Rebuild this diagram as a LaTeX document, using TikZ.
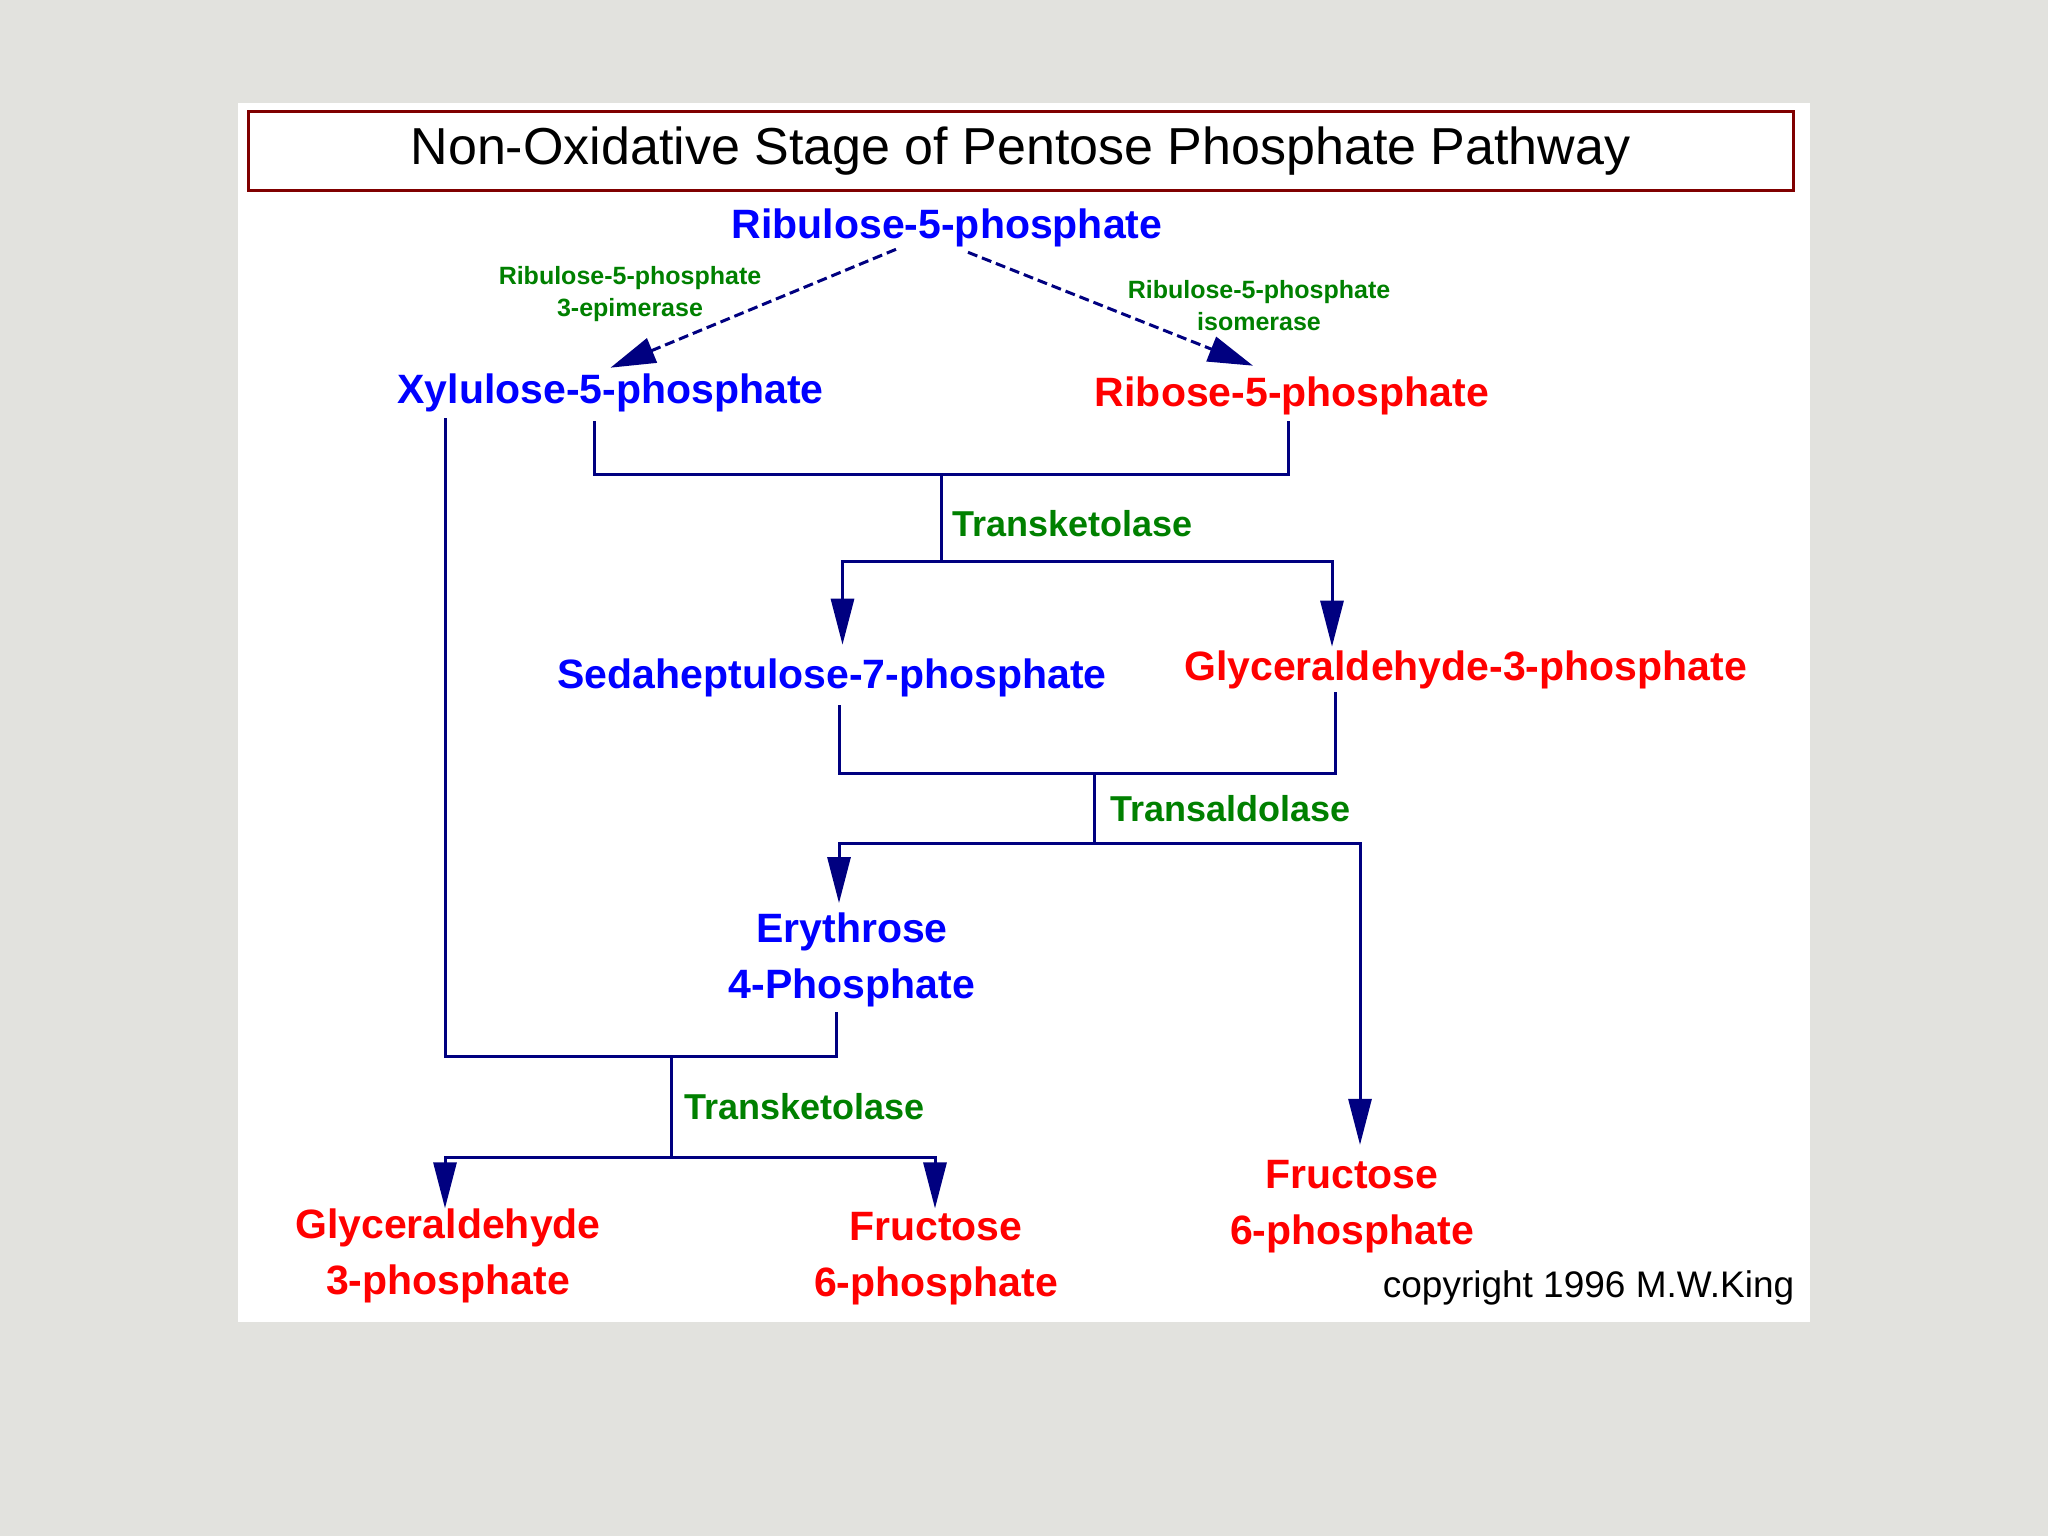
\documentclass[tikz,border=0pt]{standalone}
\usepackage{fontspec}
\setmainfont{Liberation Sans}
\usetikzlibrary{arrows.meta,positioning}
\definecolor{pathblue}{RGB}{0,0,255}
\definecolor{pathred}{RGB}{255,0,0}
\definecolor{enzgreen}{RGB}{0,128,0}
\definecolor{linenavy}{RGB}{0,0,128}
\definecolor{boxred}{RGB}{128,0,0}
\definecolor{bggrey}{RGB}{226,226,222}

\begin{document}
\begin{tikzpicture}[x=1pt, y=-1pt,
    metab/.style={font=\fontsize{41}{56}\selectfont\bfseries, inner sep=0pt, align=center},
    bluemet/.style={metab, text=pathblue},
    redmet/.style={metab, text=pathred},
    enzsmall/.style={font=\fontsize{25}{32}\selectfont\bfseries, text=enzgreen, inner sep=0pt, align=center},
    enzyme/.style={font=\fontsize{36}{40}\selectfont\bfseries, text=enzgreen, inner sep=0pt, anchor=west},
    link/.style={draw=linenavy, line width=3pt},
    arr/.style={link, -{Triangle[length=46pt,width=23pt]}},
    dasharr/.style={link, dash pattern=on 10pt off 5pt, -{Triangle[length=45pt,width=26pt]}}]

    % background and panel
    \useasboundingbox (0,0) rectangle (2048,1536);
    \fill[bggrey] (0,0) rectangle (2048,1536);
    \fill[white] (238,103) rectangle (1810,1322);

    \node[draw=boxred, line width=3pt, minimum width=1545pt, minimum height=78pt,
          font=\fontsize{52}{60}\selectfont] (title) at (1020.5,151)
          {Non-Oxidative Stage of Pentose Phosphate Pathway};

    % metabolites
    \node[bluemet] (ribu) at (947,227.6) {Ribulose-5-phosphate};
    \node[bluemet] (xylu) at (610.5,392.6) {Xylulose-5-phosphate};
    \node[redmet] (ribo) at (1292,395.6) {Ribose-5-phosphate};
    \node[bluemet] (seda) at (832,677.6) {Sedaheptulose-7-phosphate};
    \node[redmet] (glyc) at (1465.5,669.6) {Glyceraldehyde-3-phosphate};
    \node[bluemet] (eryth) at (852,960) {Erythrose\\4-Phosphate};
    \node[redmet] (glycb) at (448,1255.6) {Glyceraldehyde\\3-phosphate};
    \node[redmet] (fruca) at (936,1258.6) {Fructose\\6-phosphate};
    \node[redmet] (frucb) at (1352,1207) {Fructose\\6-phosphate};

    % enzymes
    \node[enzsmall] (epim) at (630,294.5) {Ribulose-5-phosphate\\3-epimerase};
    \node[enzsmall] (isom) at (1259,306) {Ribulose-5-phosphate\\isomerase};
    \node[enzyme] (tketa) at (952,523.5) {Transketolase};
    \node[enzyme] (tald) at (1110,808.5) {Transaldolase};
    \node[enzyme] (tketb) at (684,1106.5) {Transketolase};

    \node[font=\fontsize{37}{40}\selectfont, inner sep=0pt] (copy) at (1588.5,1288)
          {copyright 1996 M.W.King};

    % branch points
    \coordinate (tkatop) at (941,474);
    \coordinate (tkabot) at (941,561);
    \coordinate (taldtop) at (1094,773);
    \coordinate (taldbot) at (1094,843);
    \coordinate (tkbtop) at (671.5,1056);
    \coordinate (tkbbot) at (671.5,1157);

    % epimerase / isomerase
    \draw[dasharr] ([xshift=-51pt,yshift=-2.4pt]ribu.south) -- ([yshift=5.6pt]xylu.north);
    \draw[dasharr] ([xshift=21pt,yshift=-5.4pt]ribu.south) -- ([xshift=-39pt,yshift=10.6pt]ribo.north);

    % transketolase (first)
    \draw[link] ([xshift=-16.5pt,yshift=-9.4pt]xylu.south) |- (tkatop)
                -| ([xshift=-4pt,yshift=-6.4pt]ribo.south);
    \draw[link] (tkatop) -- (tkabot);
    \draw[arr] (tkabot) -| ([xshift=10.5pt,yshift=13.6pt]seda.north);
    \draw[arr] (tkabot) -| ([xshift=-133.5pt,yshift=3.6pt]glyc.north);

    % transaldolase
    \draw[link] ([xshift=7pt,yshift=-8.4pt]seda.south) |- (taldtop)
                -| ([xshift=-130.5pt,yshift=-3.4pt]glyc.south);
    \draw[link] (taldtop) -- (taldbot);
    \draw[arr] (taldbot) -| ([xshift=-13pt,yshift=9.6pt]eryth.north);
    \draw[arr] (taldbot) -| ([xshift=8pt,yshift=15.6pt]frucb.north);

    % transketolase (second)
    \draw[link] ([xshift=-165.5pt,yshift=-6.4pt]xylu.south) |- (tkbtop)
                -| ([xshift=-16pt,yshift=-4.4pt]eryth.south);
    \draw[link] (tkbtop) -- (tkbbot);
    \draw[arr] (tkbbot) -| ([xshift=-3pt]glycb.north);
    \draw[arr] (tkbbot) -| ([xshift=-1pt,yshift=3.6pt]fruca.north);
\end{tikzpicture}
\end{document}
